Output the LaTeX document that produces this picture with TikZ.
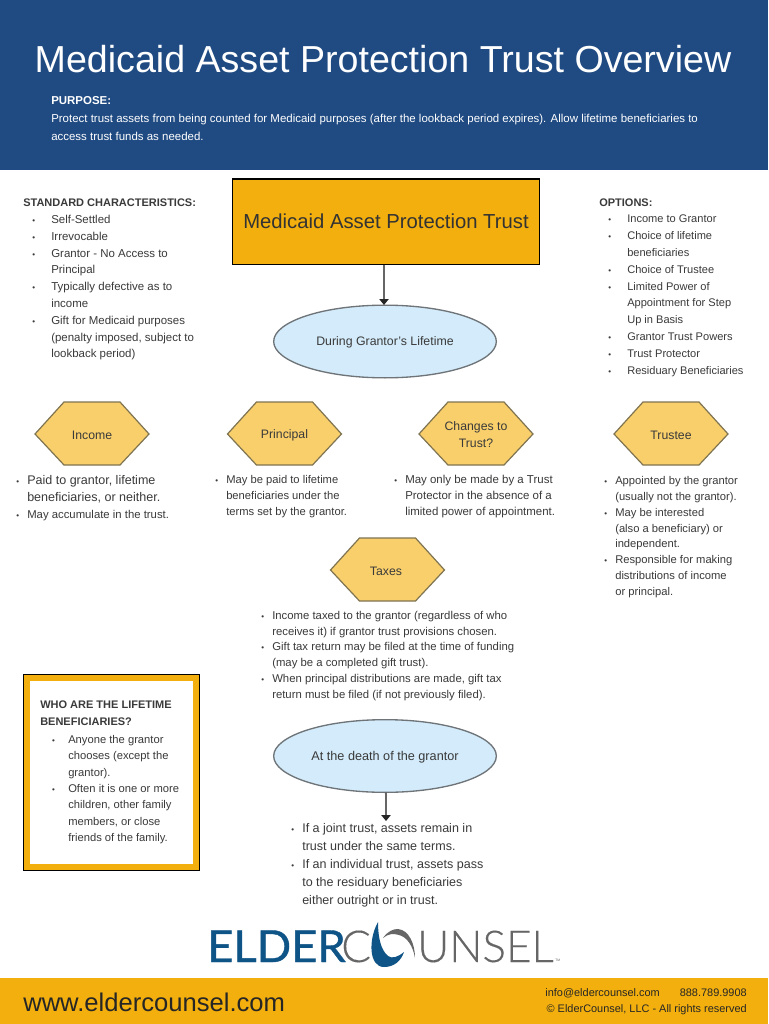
\documentclass[tikz,border=0pt]{standalone}
\usepackage{fontspec}
\setmainfont{Liberation Sans}
\newfontfamily\eldfont[FakeBold=0.9,FakeStretch=1.03]{Lato}
\newfontfamily\latolight[FakeBold=0.2]{Lato Light}
\usetikzlibrary{shapes.geometric,arrows.meta}
\definecolor{hdrblue}{HTML}{1F4A82}
\definecolor{gold}{HTML}{F3AF0D}
\definecolor{hexfill}{HTML}{F9CF6B}
\definecolor{hexline}{HTML}{7F7350}
\definecolor{ellfill}{HTML}{D3EBFA}
\definecolor{ellline}{HTML}{6E7478}
\definecolor{txt}{HTML}{3A3A3A}
\definecolor{logoblue}{HTML}{0F5486}
\definecolor{logogray}{HTML}{666666}
\newcommand{\bu}[1]{\leavevmode\llap{{\fontsize{6pt}{6pt}\selectfont\textbullet}\hspace{#1pt}}}
\newcommand{\fs}[2]{\fontsize{#1pt}{#2pt}\selectfont}
\tikzset{
  x=0.75pt,y=-0.75pt,
  blk/.style={anchor=north west,inner sep=0pt,align=left,text=txt,font=\fs{8.5}{12.6}},
  head/.style={blk,font=\fs{8.25}{12.6}\bfseries},
  hexlab/.style={inner sep=0pt,align=center,text=txt,font=\fs{9.2}{12.7}},
  oval/.style={ellipse,draw=ellline,line width=1pt,fill=ellfill,minimum width=167pt,minimum height=54.5pt,inner sep=0pt,text=txt,font=\fs{9.25}{11}},
  conn/.style={draw=black!60,line width=1.1pt,-{Triangle[length=4.5pt,width=7pt,black!85]}},
  logotext/.style={anchor=base west,inner sep=0pt,font=\latolight\fs{33}{36},text=logogray}
}
\newcommand{\hexagon}[2]{%
  \fill[hexfill,draw=hexline,line width=0.9pt] (#1-57,#2) -- (#1-28,#2-32) -- (#1+28,#2-32) -- (#1+57,#2) -- (#1+28,#2+31) -- (#1-28,#2+31) -- cycle;}
\begin{document}
\begin{tikzpicture}
\useasboundingbox (0,0) rectangle (768,1024);
\fill[white] (0,0) rectangle (768,1024);
% header
\fill[hdrblue] (0,0) rectangle (768,170);
\node[anchor=center,inner sep=0pt,text=white,font=\fs{28.2}{30}] (title) at (383,59) {Medicaid Asset Protection Trust Overview};
\node[anchor=north west,inner sep=0pt,align=left,text=white,font=\fs{8.6}{13.4}] (purpose) at (51,96.5) {\textbf{PURPOSE:}\\Protect trust assets from being counted for Medicaid purposes (after the lookback period expires). Allow lifetime beneficiaries to\\access trust funds as needed.};
% footer
\fill[gold] (0,978) rectangle (768,1024);
\node[anchor=west,inner sep=0pt,text=black!85,font=\fs{19.2}{21}] (web) at (23,1002) {www.eldercounsel.com};
\node[anchor=north east,inner sep=0pt,align=right,text=black!85,font=\fs{8.2}{12}] (contact) at (747,988.5) {info@eldercounsel.com\hspace{15pt}888.789.9908\\© ElderCounsel, LLC - All rights reserved};
% logo
\node[logotext,text=logoblue,font=\eldfont\fs{33}{36}] (elder) at (207,962) {ELDER};
\node[logotext] (c) at (341,962) {C};
\node[logotext] (unsel) at (417,962) {UNSEL};
\node[anchor=base west,inner sep=0pt,text=logogray,font=\fs{2.5}{3}] (tm) at (555,961) {TM};
\fill[logoblue] (378,922) .. controls (368,940) and (369,967) .. (384,967) .. controls (394,967) and (401,961) .. (404,952) .. controls (398,957) and (392,959) .. (388,956) .. controls (381,950) and (378,938) .. (378,922) -- cycle;
\fill[logogray] (383,938) .. controls (388,931) and (393,929) .. (398,929) .. controls (409,930) and (415,944) .. (415,958) .. controls (413,946) and (407,937) .. (399,935) .. controls (393,933) and (388,934) .. (383,938) -- cycle;
% main box
\node[draw=black,line width=1pt,fill=gold,minimum width=230pt,minimum height=64pt,inner sep=0pt,text=black!80,font=\fs{15.2}{18}] (trust) at (386,221.5) {Medicaid Asset Protection Trust};
\node[oval] (life) at (385,341.5) {\raisebox{-1.1pt}[7pt][2.5pt]{During Grantor’s Lifetime}};
\coordinate (lifetop) at (384,305);
\coordinate (trustbot) at (384,264.5);
\draw[conn] (trustbot) -- (lifetop);
% left and right lists
\node[head] (stdh) at (23,198.5) {STANDARD CHARACTERISTICS:};
\node[blk,font=\fs{8.6}{12.6}] (std) at (51,215) {\bu{12}Self-Settled\\\bu{12}Irrevocable\\\bu{12}Grantor - No Access to\\Principal\\\bu{12}Typically defective as to\\income\\\bu{12}Gift for Medicaid purposes\\(penalty imposed, subject to\\lookback period)};
\node[head] (opth) at (599,198.5) {OPTIONS:};
\node[blk,font=\fs{8.3}{12.6}] (opt) at (627,215) {\bu{12}Income to Grantor\\\bu{12}Choice of lifetime\\beneficiaries\\\bu{12}Choice of Trustee\\\bu{12}Limited Power of\\Appointment for Step\\Up in Basis\\\bu{12}Grantor Trust Powers\\\bu{12}Trust Protector\\\bu{12}Residuary Beneficiaries};
% hexagons
\hexagon{92}{434}
\hexagon{284.5}{434}
\hexagon{476}{434}
\hexagon{671}{434}
\hexagon{387.5}{570}
\node[hexlab] (h1) at (92,435) {Income};
\node[hexlab] (h2) at (284.5,435) {Principal};
\node[hexlab] (h3) at (476,434.5) {Changes to\\Trust?};
\node[hexlab] (h4) at (671,435) {Trustee};
\node[hexlab] (h5) at (386,571) {Taxes};
% lists under hexagons
\node[blk,font=\fs{9.4}{12.7}] (l1) at (27,475) {\bu{6}Paid to grantor, lifetime\\beneficiaries, or neither.\\\bu{6}\fs{8.5}{12.7}May accumulate in the trust.};
\node[blk,font=\fs{8.4}{12}] (l2) at (226,475.5) {\bu{6}May be paid to lifetime\\beneficiaries under the\\terms set by the grantor.};
\node[blk,font=\fs{8.6}{12}] (l3) at (405,475) {\bu{6}May only be made by a Trust\\Protector in the absence of a\\limited power of appointment.};
\node[blk,font=\fs{8.4}{11.8}] (l4) at (615,476.5) {\bu{6}Appointed by the grantor\\(usually not the grantor).\\\bu{6}May be interested\\(also a beneficiary) or\\independent.\\\bu{6}Responsible for making\\distributions of income\\or principal.};
\node[blk,font=\fs{8.5}{11.8}] (l5) at (272,611) {\bu{6}Income taxed to the grantor (regardless of who\\receives it) if grantor trust provisions chosen.\\\bu{6}Gift tax return may be filed at the time of funding\\(may be a completed gift trust).\\\bu{6}When principal distributions are made, gift tax\\return must be filed (if not previously filed).};
% who box
\node[draw=black,line width=0.8pt,minimum width=132.5pt,minimum height=147pt,inner sep=0pt,fill=gold] (whoout) at (111.5,772.5) {};
\node[fill=white,minimum width=122.5pt,minimum height=137pt,inner sep=0pt] (whoin) at (111.5,772.5) {};
\node[head] (whoh) at (40,700.5) {WHO ARE THE LIFETIME\\BENEFICIARIES?};
\node[blk,font=\fs{8.4}{12.3}] (who) at (68,735) {\bu{10}Anyone the grantor\\chooses (except the\\grantor).\\\bu{10}Often it is one or more\\children, other family\\members, or close\\friends of the family.};
% death
\node[oval] (death) at (385,756) {\raisebox{-0.9pt}[7pt][2.5pt]{\fs{9.5}{11}At the death of the grantor}};
\node[blk,font=\fs{9.4}{13.5}] (d) at (302,823.5) {\bu{6}If a joint trust, assets remain in\\trust under the same terms.\\\bu{6}If an individual trust, assets pass\\to the residuary beneficiaries\\either outright or in trust.};
\coordinate (deathbot) at (386,792);
\coordinate (deathend) at (386,821);
\draw[conn] (deathbot) -- (deathend);
\end{tikzpicture}
\end{document}
